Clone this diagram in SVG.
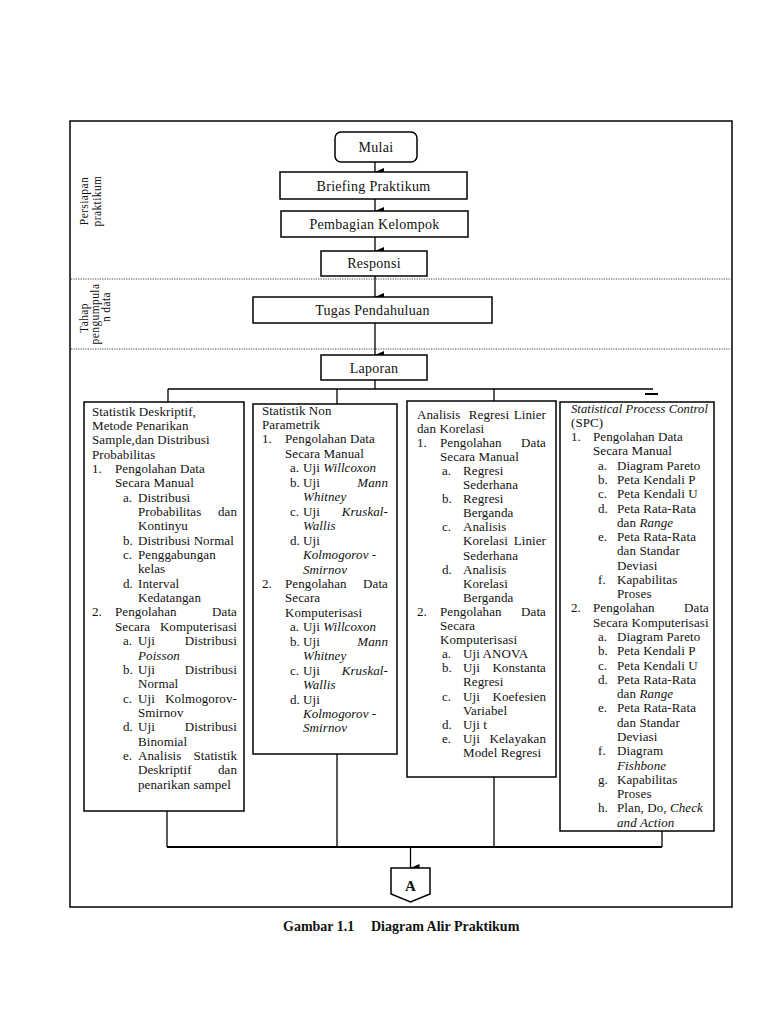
<svg xmlns="http://www.w3.org/2000/svg" width="768" height="1024" viewBox="0 0 768 1024">
<defs>
<marker id="ah" markerUnits="userSpaceOnUse" markerWidth="8" markerHeight="9" refX="4" refY="9" orient="auto-start-reverse" viewBox="0 0 8 9">
<path d="M0,0 L8,0 L4,9 Z" fill="#000"/>
</marker>
<style>
text{font-family:"Liberation Serif","Times New Roman",serif;fill:#111;}
.t{font-size:13px;letter-spacing:0.1px;}
.i{font-style:italic;}
.e{text-anchor:end;}
.m{text-anchor:middle;}
.f{font-size:14px;text-anchor:middle;letter-spacing:0.3px;}
.lane{font-size:11.5px;text-anchor:middle;letter-spacing:0.4px;}
.box{fill:#fff;stroke:#000;stroke-width:1.5;}
.ln{fill:none;stroke:#000;stroke-width:1.3;}
.bus{fill:none;stroke:#000;stroke-width:2;}
.dot{fill:none;stroke:#444;stroke-width:1;stroke-dasharray:1.2,1.2;}
.cap{font-size:14px;font-weight:bold;}
</style>
</defs>
<rect x="0" y="0" width="768" height="1024" fill="#fff"/>
<rect x="70" y="121" width="662" height="786" fill="none" stroke="#000" stroke-width="1.5"/>
<line class="dot" x1="71" y1="279" x2="731" y2="279"/>
<line class="dot" x1="71" y1="349" x2="731" y2="349"/>
<g id="lanes">
<text class="lane" transform="translate(88,201) rotate(-90)">Persiapan</text>
<text class="lane" transform="translate(101,201) rotate(-90)">praktikum</text>
<text class="lane" transform="translate(88,318) rotate(-90)">Tahap</text>
<text class="lane" transform="translate(99,314) rotate(-90)">pengumpula</text>
<text class="lane" transform="translate(110,307) rotate(-90)">n data</text>
</g>
<g id="connectors">
<line class="ln" x1="375" y1="162" x2="375" y2="172" marker-end="url(#ah)"/>
<line class="ln" x1="375" y1="199" x2="375" y2="211" marker-end="url(#ah)"/>
<line class="ln" x1="375" y1="237" x2="375" y2="251" marker-end="url(#ah)"/>
<line class="ln" x1="375" y1="276" x2="375" y2="297" marker-end="url(#ah)"/>
<line class="ln" x1="375" y1="323" x2="375" y2="355" marker-end="url(#ah)"/>
<line class="ln" x1="375" y1="380" x2="375" y2="389"/>
<line class="ln" x1="168" y1="389" x2="653" y2="389"/>
<line class="bus" x1="645" y1="394" x2="658" y2="394"/>
<line class="ln" x1="168" y1="389" x2="168" y2="402"/>
<line class="ln" x1="337" y1="389" x2="337" y2="404"/>
<line class="ln" x1="494" y1="389" x2="494" y2="401"/>
<line class="ln" x1="167" y1="811" x2="167" y2="847"/>
<line class="ln" x1="337" y1="754" x2="337" y2="847"/>
<line class="ln" x1="494" y1="777" x2="494" y2="847"/>
<line class="ln" x1="662" y1="831" x2="662" y2="847"/>
<line class="bus" x1="167" y1="847" x2="662" y2="847"/>
<line class="ln" x1="410.5" y1="847" x2="410.5" y2="868" marker-end="url(#ah)"/>
</g>
<g id="mulai">
<rect class="box" x="335" y="132" width="82" height="30" rx="6"/>
<text class="f" x="376" y="152">Mulai</text>
</g>
<g id="briefing">
<rect class="box" x="280" y="172" width="187" height="27"/>
<text class="f" x="373.5" y="190.5">Briefing Praktikum</text>
</g>
<g id="pembagian">
<rect class="box" x="281" y="211" width="187" height="26"/>
<text class="f" x="374.5" y="229">Pembagian Kelompok</text>
</g>
<g id="responsi">
<rect class="box" x="321" y="251" width="106" height="25"/>
<text class="f" x="374" y="268">Responsi</text>
</g>
<g id="tugas">
<rect class="box" x="253" y="297" width="239" height="26"/>
<text class="f" x="372.5" y="315">Tugas Pendahuluan</text>
</g>
<g id="laporan">
<rect class="box" x="321" y="355" width="106" height="25"/>
<text class="f" x="374" y="372.5">Laporan</text>
</g>
<g id="col1">
<rect class="box" x="84" y="402" width="160" height="409"/>
<text class="t" x="92" y="415.5">Statistik Deskriptif,</text>
<text class="t" x="92" y="429.9">Metode Penarikan</text>
<text class="t" x="92" y="444.2">Sample,dan Distribusi</text>
<text class="t" x="92" y="458.6">Probabilitas</text>
<text class="t" x="92" y="472.9">1.</text><text class="t" x="115" y="472.9">Pengolahan Data</text>
<text class="t" x="115" y="487.3">Secara Manual</text>
<text class="t" x="123" y="501.6">a.</text><text class="t" x="138" y="501.6">Distribusi</text>
<text class="t" x="138" y="516">Probabilitas</text><text class="t e" x="237" y="516">dan</text>
<text class="t" x="138" y="530.3">Kontinyu</text>
<text class="t" x="123" y="544.7">b.</text><text class="t" x="138" y="544.7">Distribusi Normal</text>
<text class="t" x="123" y="559">c.</text><text class="t" x="138" y="559">Penggabungan</text>
<text class="t" x="138" y="573.4">kelas</text>
<text class="t" x="123" y="587.7">d.</text><text class="t" x="138" y="587.7">Interval</text>
<text class="t" x="138" y="602.1">Kedatangan</text>
<text class="t" x="92" y="616.4">2.</text><text class="t" x="115" y="616.4">Pengolahan</text><text class="t e" x="237" y="616.4">Data</text>
<text class="t" x="115" y="630.8">Secara</text><text class="t e" x="237" y="630.8">Komputerisasi</text>
<text class="t" x="123" y="645.1">a.</text><text class="t" x="138" y="645.1">Uji</text><text class="t e" x="237" y="645.1">Distribusi</text>
<text class="t i" x="138" y="659.5">Poisson</text>
<text class="t" x="123" y="673.8">b.</text><text class="t" x="138" y="673.8">Uji</text><text class="t e" x="237" y="673.8">Distribusi</text>
<text class="t" x="138" y="688.2">Normal</text>
<text class="t" x="123" y="702.5">c.</text><text class="t" x="138" y="702.5">Uji</text><text class="t e" x="237" y="702.5">Kolmogorov-</text>
<text class="t" x="138" y="716.9">Smirnov</text>
<text class="t" x="123" y="731.2">d.</text><text class="t" x="138" y="731.2">Uji</text><text class="t e" x="237" y="731.2">Distribusi</text>
<text class="t" x="138" y="745.6">Binomial</text>
<text class="t" x="123" y="759.9">e.</text><text class="t" x="138" y="759.9">Analisis</text><text class="t e" x="237" y="759.9">Statistik</text>
<text class="t" x="138" y="774.3">Deskriptif</text><text class="t e" x="237" y="774.3">dan</text>
<text class="t" x="138" y="788.6">penarikan sampel</text>
</g>
<g id="col2">
<rect class="box" x="253" y="404" width="144" height="350"/>
<text class="t" x="262" y="414.5">Statistik Non</text>
<text class="t" x="262" y="429">Parametrik</text>
<text class="t" x="262" y="443.4">1.</text><text class="t" x="285" y="443.4">Pengolahan Data</text>
<text class="t" x="285" y="457.9">Secara Manual</text>
<text class="t" x="290" y="472.3">a.</text><text class="t" x="303" y="472.3">Uji <tspan class="i">Willcoxon</tspan></text>
<text class="t" x="290" y="486.8">b.</text><text class="t" x="303" y="486.8">Uji</text><text class="t i e" x="388" y="486.8">Mann</text>
<text class="t i" x="303" y="501.2">Whitney</text>
<text class="t" x="290" y="515.7">c.</text><text class="t" x="303" y="515.7">Uji</text><text class="t i e" x="388" y="515.7">Kruskal-</text>
<text class="t i" x="303" y="530.1">Wallis</text>
<text class="t" x="290" y="544.6">d.</text><text class="t" x="303" y="544.6">Uji</text>
<text class="t i" x="303" y="559">Kolmogorov -</text>
<text class="t i" x="303" y="573.5">Smirnov</text>
<text class="t" x="262" y="587.9">2.</text><text class="t" x="285" y="587.9">Pengolahan</text><text class="t e" x="388" y="587.9">Data</text>
<text class="t" x="285" y="602.4">Secara</text>
<text class="t" x="285" y="616.8">Komputerisasi</text>
<text class="t" x="290" y="631.3">a.</text><text class="t" x="303" y="631.3">Uji <tspan class="i">Willcoxon</tspan></text>
<text class="t" x="290" y="645.7">b.</text><text class="t" x="303" y="645.7">Uji</text><text class="t i e" x="388" y="645.7">Mann</text>
<text class="t i" x="303" y="660.2">Whitney</text>
<text class="t" x="290" y="674.6">c.</text><text class="t" x="303" y="674.6">Uji</text><text class="t i e" x="388" y="674.6">Kruskal-</text>
<text class="t i" x="303" y="689.1">Wallis</text>
<text class="t" x="290" y="703.5">d.</text><text class="t" x="303" y="703.5">Uji</text>
<text class="t i" x="303" y="718">Kolmogorov -</text>
<text class="t i" x="303" y="732.4">Smirnov</text>
</g>
<g id="col3">
<rect class="box" x="407" y="401" width="149" height="376"/>
<text class="t" x="417" y="418.5">Analisis</text><text class="t m" x="489" y="418.5">Regresi</text><text class="t e" x="546" y="418.5">Linier</text>
<text class="t" x="417" y="432.6">dan Korelasi</text>
<text class="t" x="417" y="446.7">1.</text><text class="t" x="440" y="446.7">Pengolahan</text><text class="t e" x="546" y="446.7">Data</text>
<text class="t" x="440" y="460.8">Secara Manual</text>
<text class="t" x="442" y="474.9">a.</text><text class="t" x="463" y="474.9">Regresi</text>
<text class="t" x="463" y="489">Sederhana</text>
<text class="t" x="442" y="503.1">b.</text><text class="t" x="463" y="503.1">Regresi</text>
<text class="t" x="463" y="517.2">Berganda</text>
<text class="t" x="442" y="531.3">c.</text><text class="t" x="463" y="531.3">Analisis</text>
<text class="t" x="463" y="545.4">Korelasi</text><text class="t e" x="546" y="545.4">Linier</text>
<text class="t" x="463" y="559.5">Sederhana</text>
<text class="t" x="442" y="573.6">d.</text><text class="t" x="463" y="573.6">Analisis</text>
<text class="t" x="463" y="587.7">Korelasi</text>
<text class="t" x="463" y="601.8">Berganda</text>
<text class="t" x="417" y="615.9">2.</text><text class="t" x="440" y="615.9">Pengolahan</text><text class="t e" x="546" y="615.9">Data</text>
<text class="t" x="440" y="630">Secara</text>
<text class="t" x="440" y="644.1">Komputerisasi</text>
<text class="t" x="442" y="658.2">a.</text><text class="t" x="463" y="658.2">Uji ANOVA</text>
<text class="t" x="442" y="672.3">b.</text><text class="t" x="463" y="672.3">Uji</text><text class="t e" x="546" y="672.3">Konstanta</text>
<text class="t" x="463" y="686.4">Regresi</text>
<text class="t" x="442" y="700.5">c.</text><text class="t" x="463" y="700.5">Uji</text><text class="t e" x="546" y="700.5">Koefesien</text>
<text class="t" x="463" y="714.6">Variabel</text>
<text class="t" x="442" y="728.7">d.</text><text class="t" x="463" y="728.7">Uji t</text>
<text class="t" x="442" y="742.8">e.</text><text class="t" x="463" y="742.8">Uji</text><text class="t e" x="546" y="742.8">Kelayakan</text>
<text class="t" x="463" y="756.9">Model Regresi</text>
</g>
<g id="col4">
<rect class="box" x="560" y="402" width="154" height="429"/>
<text class="t i" x="571" y="412.5" textLength="137" lengthAdjust="spacingAndGlyphs">Statistical Process Control</text>
<text class="t" x="571" y="426.8">(SPC)</text>
<text class="t" x="571" y="441.1">1.</text><text class="t" x="593" y="441.1">Pengolahan Data</text>
<text class="t" x="593" y="455.3">Secara Manual</text>
<text class="t" x="598" y="469.6">a.</text><text class="t" x="617" y="469.6">Diagram Pareto</text>
<text class="t" x="598" y="483.9">b.</text><text class="t" x="617" y="483.9">Peta Kendali P</text>
<text class="t" x="598" y="498.2">c.</text><text class="t" x="617" y="498.2">Peta Kendali U</text>
<text class="t" x="598" y="512.5">d.</text><text class="t" x="617" y="512.5">Peta Rata-Rata</text>
<text class="t" x="617" y="526.7">dan <tspan class="i">Range</tspan></text>
<text class="t" x="598" y="541">e.</text><text class="t" x="617" y="541">Peta Rata-Rata</text>
<text class="t" x="617" y="555.3">dan Standar</text>
<text class="t" x="617" y="569.6">Deviasi</text>
<text class="t" x="598" y="583.9">f.</text><text class="t" x="617" y="583.9">Kapabilitas</text>
<text class="t" x="617" y="598.1">Proses</text>
<text class="t" x="571" y="612.4">2.</text><text class="t" x="593" y="612.4">Pengolahan</text><text class="t e" x="709" y="612.4">Data</text>
<text class="t" x="593" y="626.7">Secara Komputerisasi</text>
<text class="t" x="598" y="641">a.</text><text class="t" x="617" y="641">Diagram Pareto</text>
<text class="t" x="598" y="655.3">b.</text><text class="t" x="617" y="655.3">Peta Kendali P</text>
<text class="t" x="598" y="669.5">c.</text><text class="t" x="617" y="669.5">Peta Kendali U</text>
<text class="t" x="598" y="683.8">d.</text><text class="t" x="617" y="683.8">Peta Rata-Rata</text>
<text class="t" x="617" y="698.1">dan <tspan class="i">Range</tspan></text>
<text class="t" x="598" y="712.4">e.</text><text class="t" x="617" y="712.4">Peta Rata-Rata</text>
<text class="t" x="617" y="726.7">dan Standar</text>
<text class="t" x="617" y="740.9">Deviasi</text>
<text class="t" x="598" y="755.2">f.</text><text class="t" x="617" y="755.2">Diagram</text>
<text class="t i" x="617" y="769.5">Fishbone</text>
<text class="t" x="598" y="783.8">g.</text><text class="t" x="617" y="783.8">Kapabilitas</text>
<text class="t" x="617" y="798.1">Proses</text>
<text class="t" x="598" y="812.3">h.</text><text class="t" x="617" y="812.3">Plan, Do, <tspan class="i">Check</tspan></text>
<text class="t i" x="617" y="826.6">and Action</text>
</g>
<g id="connector-a">
<path d="M391,868 H430 V894 L410.5,902 L391,894 Z" fill="#fff" stroke="#000" stroke-width="1.5"/>
<text x="410.5" y="891" text-anchor="middle" font-size="15" font-weight="bold">A</text>
</g>
<g id="caption">
<text class="cap" x="283" y="931">Gambar 1.1</text>
<text class="cap" x="371" y="931">Diagram Alir Praktikum</text>
</g>
</svg>
